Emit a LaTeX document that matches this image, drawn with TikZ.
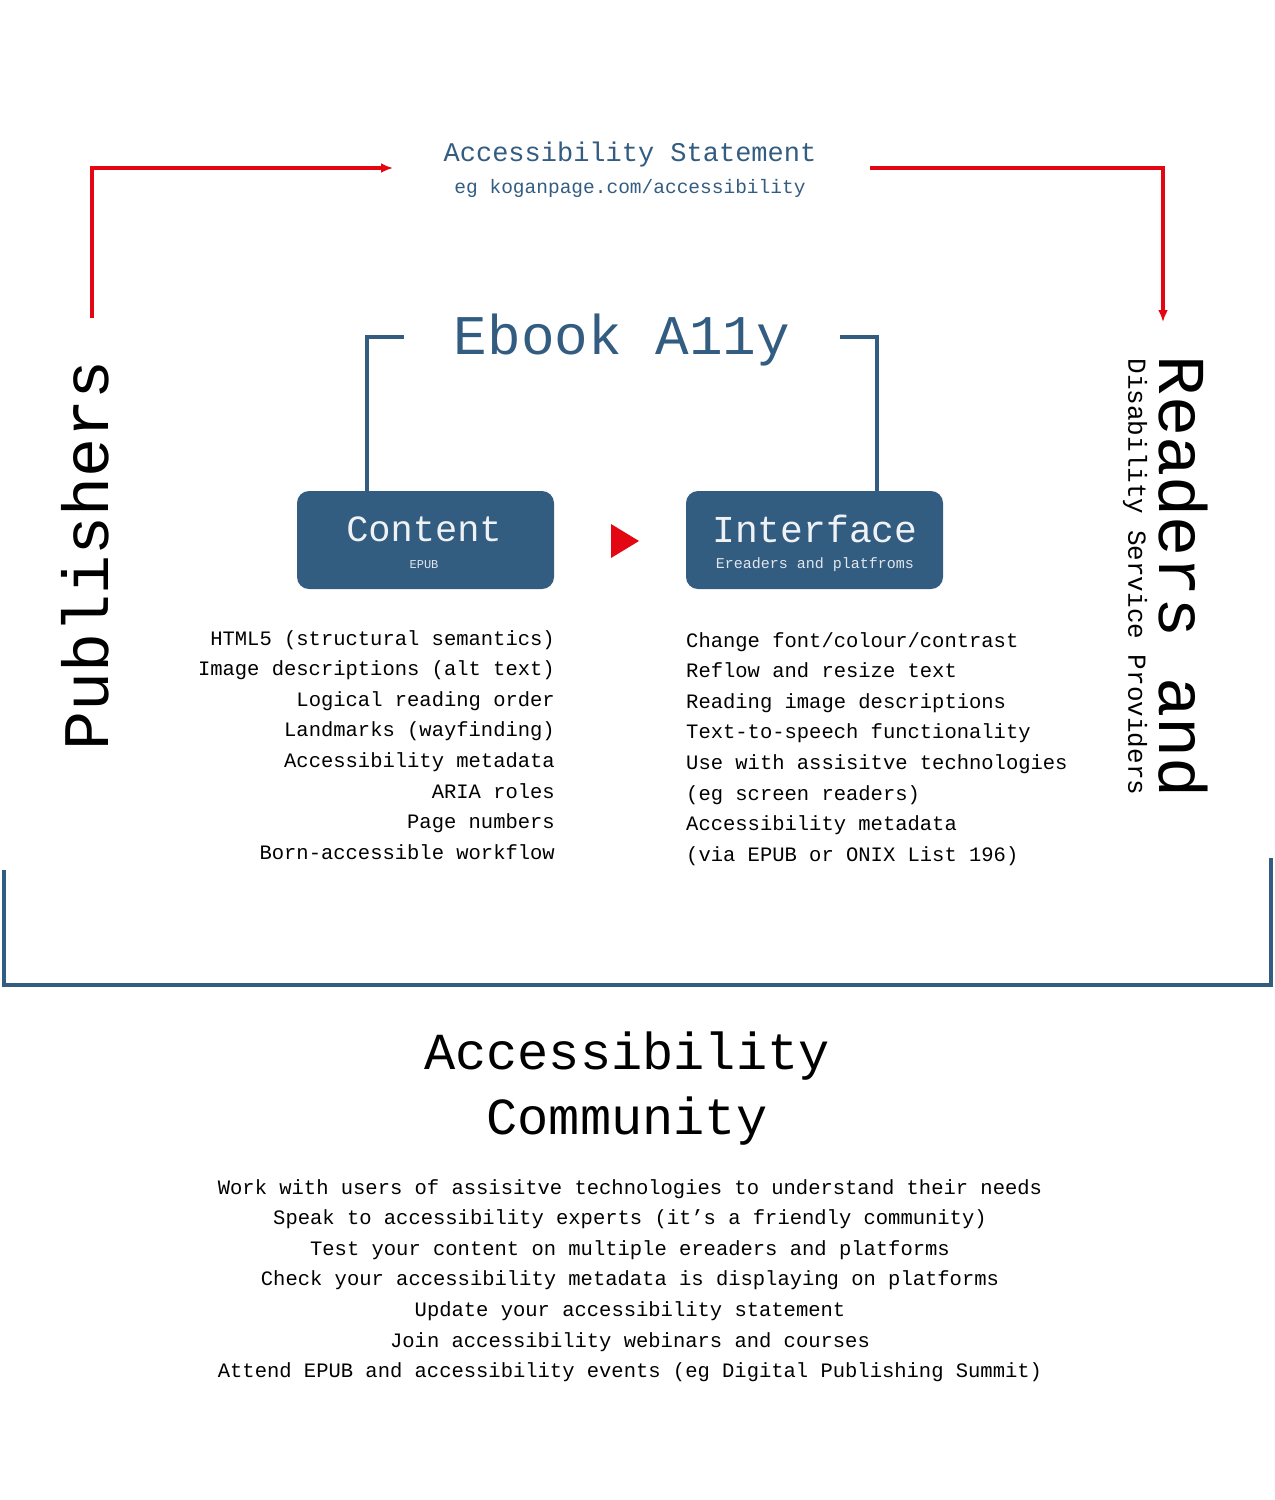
\documentclass[tikz,border=0pt]{standalone}
\usepackage{fontspec}
\setmainfont{Liberation Mono}
\usetikzlibrary{arrows.meta}
\definecolor{ablue}{HTML}{335C81}
\definecolor{ared}{HTML}{E30613}
\tikzset{
  redline/.style={draw=ared,line width=4pt,-{Latex[length=12pt,width=10pt]}},
  blueline/.style={draw=ablue,line width=4pt},
  box/.style={fill=ablue,rounded corners=12pt,minimum width=257pt,minimum height=98pt,inner sep=0pt},
  listtxt/.style={font=\fontsize{20.5}{30.6}\selectfont,inner sep=0pt,align=left},
}
\begin{document}
\begin{tikzpicture}[x=1pt,y=-1pt]
\useasboundingbox (0,0) rectangle (1275,1500);
% statement
\node[text=ablue,font=\fontsize{27}{30}\selectfont] (st) at (630,155) {Accessibility Statement};
\node[text=ablue,font=\fontsize{19.5}{22}\selectfont] (stu) at (630,188) {eg koganpage.com/accessibility};
\coordinate (p1) at (92,318); \coordinate (p2) at (393,168);
\coordinate (r1) at (870,168); \coordinate (r2) at (1163,322);
\draw[redline] (p1) |- (p2);
\draw[redline] (r1) -| (r2);
% side labels
\node[rotate=90,font=\fontsize{65}{70}\selectfont] (pub) at (85,555) {Publishers};
\node[rotate=-90,font=\fontsize{67}{70}\selectfont] (rd) at (1183,577) {Readers and};
\node[rotate=-90,font=\fontsize{26}{28}\selectfont] (dsp) at (1135,577) {Disability Service Providers};
% ebook
\node[text=ablue,font=\fontsize{56}{60}\selectfont] (eb) at (622,340) {Ebook A11y};
\node[box] (ct) at (425.5,540) {};
\node[box] (if) at (814.5,540) {};
\node[text=white!92!ablue,font=\fontsize{37}{40}\selectfont] at (424,529) {Content};
\node[text=white!85!ablue,font=\fontsize{12}{14}\selectfont] at (424,565) {EPUB};
\node[text=white!92!ablue,font=\fontsize{38}{40}\selectfont] at (815,529) {Interface};
\node[text=white!85!ablue,font=\fontsize{15}{16}\selectfont] at (815,565) {Ereaders and platfroms};
\draw[blueline] (367,491) |- (404,337);
\draw[blueline] (840,337) -| (877,491);
\fill[ared] (611,524) -- (639,541) -- (611,558) -- cycle;
% lists
\node[listtxt,align=right,anchor=north east] (l1) at (555,630) {HTML5 (structural semantics)\\Image descriptions (alt text)\\Logical reading order\\Landmarks (wayfinding)\\Accessibility metadata\\ARIA roles\\Page numbers\\Born-accessible workflow};
\node[listtxt,anchor=north west] (l2) at (686,632) {Change font/colour/contrast\\Reflow and resize text\\Reading image descriptions\\Text-to-speech functionality\\Use with assisitve technologies\\(eg screen readers)\\Accessibility metadata\\(via EPUB or ONIX List 196)};
% bottom bracket
\draw[blueline] (4,870) |- (1271,985) -- (1271,858);
\node[font=\fontsize{52}{65}\selectfont,align=center] (ac) at (627,1089) {Accessibility\\Community};
\node[listtxt,align=center,anchor=north] (l3) at (630,1179) {Work with users of assisitve technologies to understand their needs\\Speak to accessibility experts (it’s a friendly community)\\Test your content on multiple ereaders and platforms\\Check your accessibility metadata is displaying on platforms\\Update your accessibility statement\\Join accessibility webinars and courses\\Attend EPUB and accessibility events (eg Digital Publishing Summit)};
\end{tikzpicture}
\end{document}
